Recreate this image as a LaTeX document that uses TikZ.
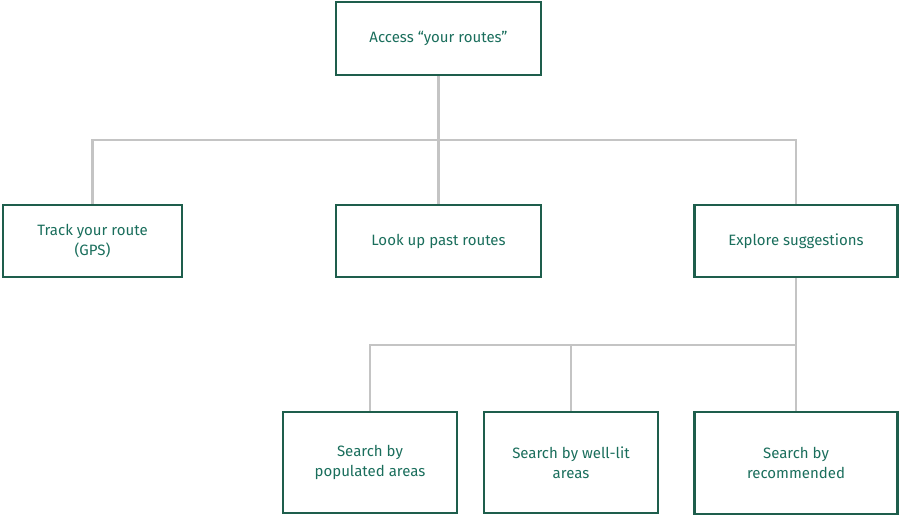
\documentclass[tikz,border=0pt]{standalone}
\usepackage{fontspec}
\setmainfont{Fira Sans}
\begin{document}
\begin{tikzpicture}[x=1pt,y=-1pt,
  box/.style={draw=boxc,line width=2.2pt,text=txtc,align=center,inner sep=0pt,
    font=\fontsize{15}{20}\selectfont},
  con/.style={draw=linec,line width=2.5pt}]
\definecolor{boxc}{HTML}{1E5E4C}
\definecolor{txtc}{HTML}{1A6E5C}
\definecolor{linec}{HTML}{C4C4C4}
\useasboundingbox (0,0) rectangle (899,516);
\node[box,minimum width=205pt,minimum height=73pt] (top) at (438.5,38.5) {Access “your routes”};
\node[box,minimum width=179pt,minimum height=72pt] (track) at (92.5,241) {Track your route\\(GPS)};
\node[box,minimum width=205pt,minimum height=72pt] (look) at (438.5,241) {Look up past routes};
\node[box,minimum width=203pt,minimum height=72pt] (expl) at (796,241) {Explore suggestions};
\node[box,minimum width=174pt,minimum height=101pt] (pop) at (370,462.5) {Search by\\populated areas};
\node[box,minimum width=174pt,minimum height=101pt] (lit) at (571,462.5) {Search by well-lit\\areas};
\node[box,minimum width=203pt,minimum height=102pt] (rec) at (796,463) {Search by\\recommended};
\coordinate (j1) at (438.5,140);
\coordinate (j2) at (796,345);
\begin{scope}[on background layer/.style={}]
\draw[con] (top.south) -- (j1);
\draw[con] (track.north) |- (j1) -| (expl.north);
\draw[con] (j1) -- (look.north);
\draw[con] (expl.south) -- (j2);
\draw[con] (pop.north) |- (j2) -- (rec.north);
\draw[con] (lit.north) -- (lit.north |- j2);
\end{scope}
\end{tikzpicture}
\end{document}
